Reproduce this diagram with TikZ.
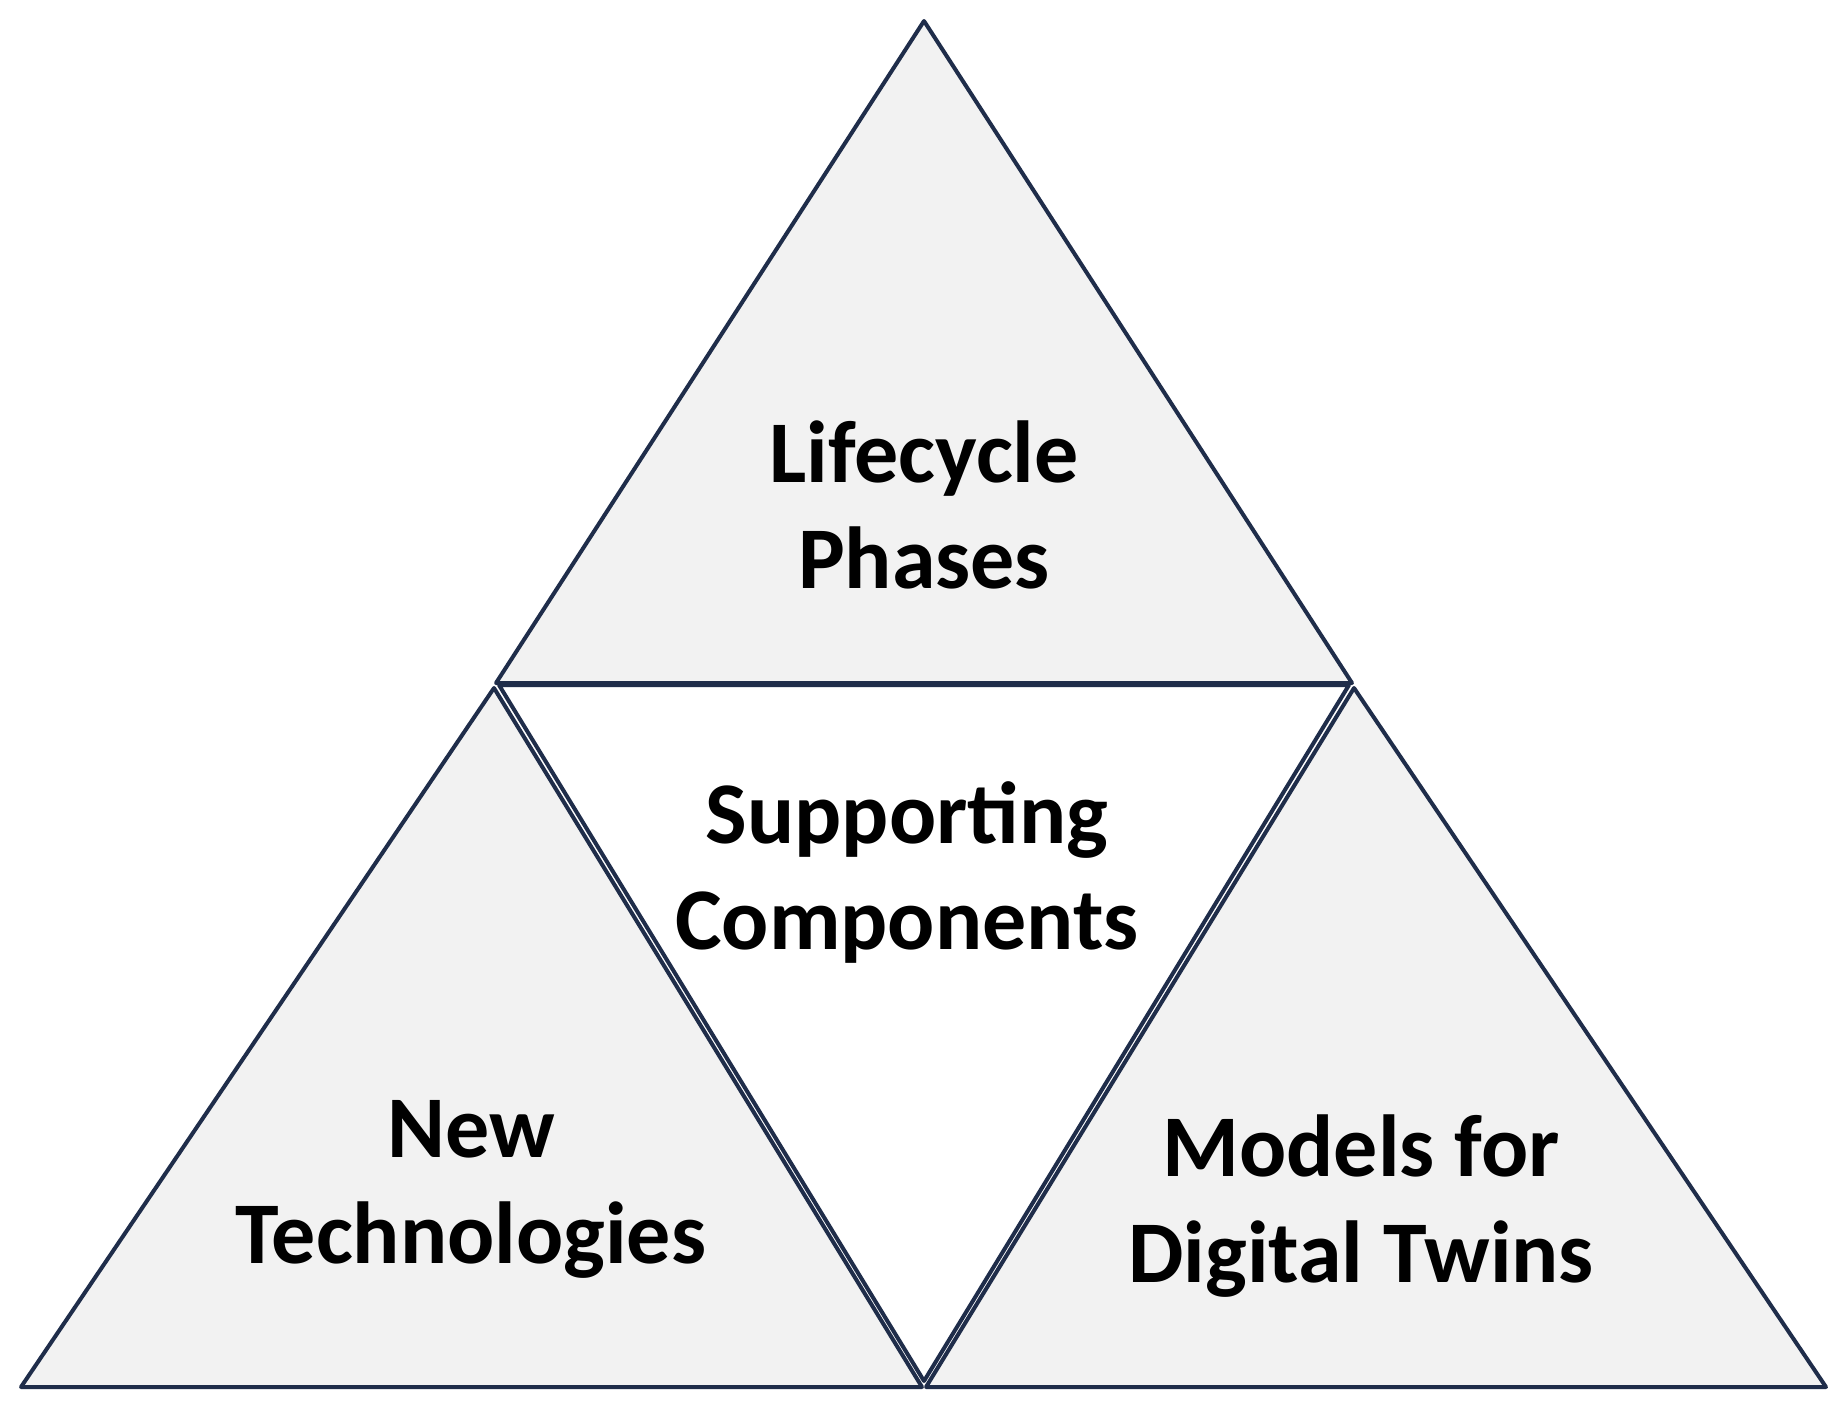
\documentclass[tikz,border=0pt]{standalone}
\usepackage{fontspec}
\setmainfont{Carlito}
\definecolor{edge}{HTML}{1F2D4A}
\definecolor{fillg}{HTML}{F2F2F2}
\begin{document}
\begin{tikzpicture}[x=1pt,y=-1pt,
  tri/.style={draw=edge,line width=4pt,line join=round,fill=fillg},
  lbl/.style={font=\fontsize{88}{106}\selectfont\bfseries,align=center}]
\useasboundingbox (0,0) rectangle (1838,1403);
\fill[white] (0,0) rectangle (1838,1403);
\draw[tri] (924,21) -- (1352,683) -- (496,683) -- cycle;
\draw[tri] (494,688) -- (922,1387) -- (21,1387) -- cycle;
\draw[tri] (1354,688) -- (926,1387) -- (1826,1387) -- cycle;
\draw[tri,fill=white] (499,685) -- (1349,685) -- (924,1381) -- cycle;
\node[lbl] (lp) at (924,505) {Lifecycle\\Phases};
\node[lbl] (sc) at (907,872) {Supporting\\Components};
\node[lbl] (nt) at (471,1189) {New\\Technologies};
\node[lbl] (md) at (1361,1206) {Models for\\Digital Twins};
\end{tikzpicture}
\end{document}
